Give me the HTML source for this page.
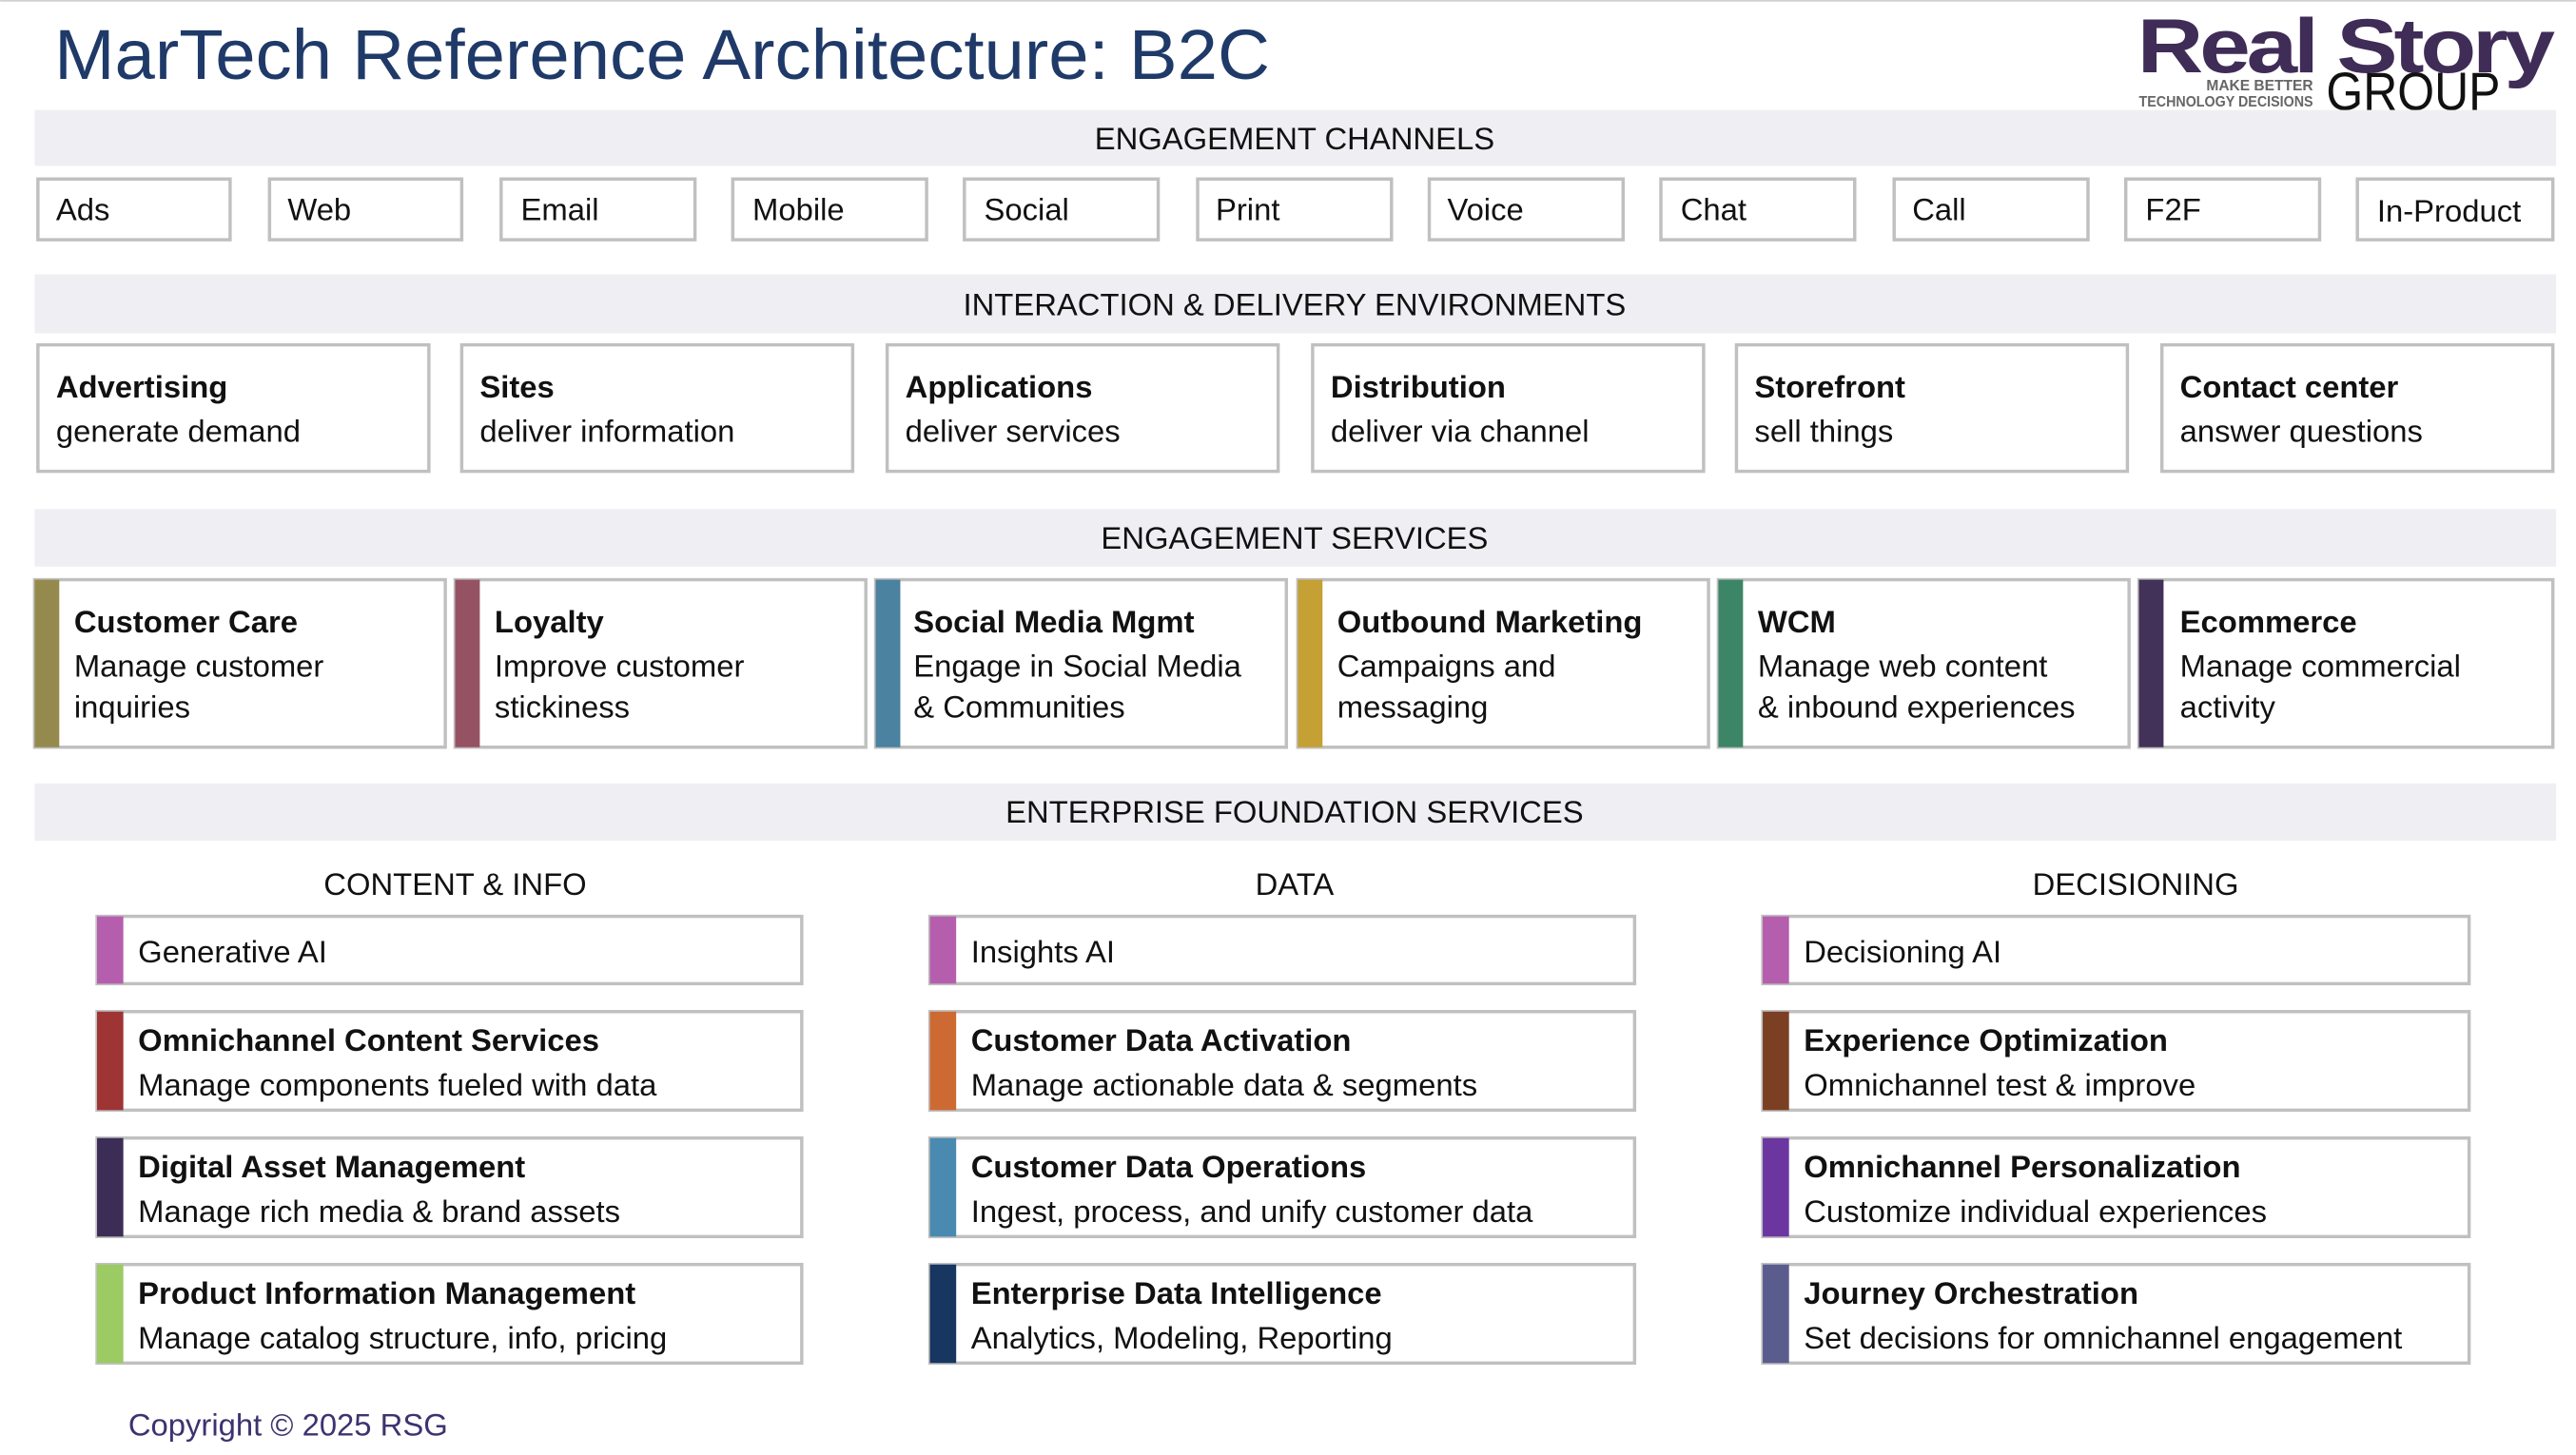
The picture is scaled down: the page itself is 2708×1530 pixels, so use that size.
<!DOCTYPE html>
<html><head><meta charset="utf-8"><style>
html,body{margin:0;padding:0;background:#fff;}
svg{display:block;}
text{font-family:"Liberation Sans",sans-serif;}
</style></head><body>
<svg width="2708" height="1530" viewBox="0 0 1568 886" xmlns="http://www.w3.org/2000/svg">
<rect width="1568" height="886" fill="#fff"/>
<rect x="0" y="0" width="1568" height="1" fill="#d0d0d0"/>
<text x="33" y="48" font-size="43" fill="#1f3a68" textLength="740" lengthAdjust="spacingAndGlyphs">MarTech Reference Architecture: B2C</text>
<!-- logo -->
<text x="1301" y="44" font-size="47" font-weight="bold" fill="#3f2c57" textLength="252" lengthAdjust="spacingAndGlyphs" letter-spacing="-2">Real Story</text>
<text x="1408" y="55" font-size="9" font-weight="bold" fill="#666" text-anchor="end">MAKE BETTER</text>
<text x="1408" y="65" font-size="9" font-weight="bold" fill="#666" text-anchor="end" textLength="106" lengthAdjust="spacingAndGlyphs">TECHNOLOGY DECISIONS</text>
<text x="1416" y="67" font-size="33" fill="#111" textLength="106" lengthAdjust="spacingAndGlyphs">GROUP</text>
<g fill="#efeff3">
<rect x="21" y="67" width="1535" height="34"/>
<rect x="21" y="167" width="1535" height="36"/>
<rect x="21" y="310" width="1535" height="35"/>
<rect x="21" y="477" width="1535" height="35"/>
</g>
<g font-size="19" fill="#111" text-anchor="middle">
<text x="788" y="91">ENGAGEMENT CHANNELS</text>
<text x="788" y="192">INTERACTION &amp; DELIVERY ENVIRONMENTS</text>
<text x="788" y="334">ENGAGEMENT SERVICES</text>
<text x="788" y="501">ENTERPRISE FOUNDATION SERVICES</text>
<text x="277" y="545">CONTENT &amp; INFO</text>
<text x="788" y="545">DATA</text>
<text x="1300" y="545">DECISIONING</text>
</g>
<!-- channels -->
<g fill="none" stroke="#c0c0c0" stroke-width="2">
<rect x="23" y="109" width="117" height="37"/><rect x="164" y="109" width="117" height="37"/>
<rect x="305" y="109" width="118" height="37"/><rect x="446" y="109" width="118" height="37"/>
<rect x="587" y="109" width="118" height="37"/><rect x="729" y="109" width="118" height="37"/>
<rect x="870" y="109" width="118" height="37"/><rect x="1011" y="109" width="118" height="37"/>
<rect x="1153" y="109" width="118" height="37"/><rect x="1294" y="109" width="118" height="37"/>
<rect x="1435" y="109" width="119" height="37"/>
</g>
<g font-size="19" fill="#111">
<text x="34" y="134">Ads</text><text x="175" y="134">Web</text><text x="317" y="134">Email</text>
<text x="458" y="134">Mobile</text><text x="599" y="134">Social</text><text x="740" y="134">Print</text>
<text x="881" y="134">Voice</text><text x="1023" y="134">Chat</text><text x="1164" y="134">Call</text>
<text x="1306" y="134">F2F</text><text x="1447" y="135">In-Product</text>
</g>
<!-- environments -->
<g fill="none" stroke="#c0c0c0" stroke-width="2">
<rect x="23" y="210" width="238" height="77"/><rect x="281" y="210" width="238" height="77"/>
<rect x="540" y="210" width="238" height="77"/><rect x="799" y="210" width="238" height="77"/>
<rect x="1057" y="210" width="238" height="77"/><rect x="1316" y="210" width="238" height="77"/>
</g>
<g font-size="19" fill="#111">
<text x="34" y="242" font-weight="bold">Advertising</text><text x="34" y="269">generate demand</text>
<text x="292" y="242" font-weight="bold">Sites</text><text x="292" y="269">deliver information</text>
<text x="551" y="242" font-weight="bold">Applications</text><text x="551" y="269">deliver services</text>
<text x="810" y="242" font-weight="bold">Distribution</text><text x="810" y="269">deliver via channel</text>
<text x="1068" y="242" font-weight="bold">Storefront</text><text x="1068" y="269">sell things</text>
<text x="1327" y="242" font-weight="bold">Contact center</text><text x="1327" y="269">answer questions</text>
</g>
<!-- services -->
<g fill="none" stroke="#c0c0c0" stroke-width="2">
<rect x="21" y="353" width="250" height="102"/><rect x="277" y="353" width="250" height="102"/>
<rect x="533" y="353" width="250" height="102"/><rect x="790" y="353" width="250" height="102"/>
<rect x="1046" y="353" width="250" height="102"/><rect x="1302" y="353" width="252" height="102"/>
</g>
<rect x="21" y="353" width="15" height="102" fill="#958a4e"/>
<rect x="277" y="353" width="15" height="102" fill="#955262"/>
<rect x="533" y="353" width="15" height="102" fill="#4a82a0"/>
<rect x="790" y="353" width="15" height="102" fill="#c4a035"/>
<rect x="1046" y="353" width="15" height="102" fill="#3c8566"/>
<rect x="1302" y="353" width="15" height="102" fill="#423158"/>
<g font-size="19" fill="#111">
<text x="45" y="385" font-weight="bold">Customer Care</text><text x="45" y="412">Manage customer</text><text x="45" y="437">inquiries</text>
<text x="301" y="385" font-weight="bold">Loyalty</text><text x="301" y="412">Improve customer</text><text x="301" y="437">stickiness</text>
<text x="556" y="385" font-weight="bold">Social Media Mgmt</text><text x="556" y="412">Engage in Social Media</text><text x="556" y="437">&amp; Communities</text>
<text x="814" y="385" font-weight="bold">Outbound Marketing</text><text x="814" y="412">Campaigns and</text><text x="814" y="437">messaging</text>
<text x="1070" y="385" font-weight="bold">WCM</text><text x="1070" y="412">Manage web content</text><text x="1070" y="437">&amp; inbound experiences</text>
<text x="1327" y="385" font-weight="bold">Ecommerce</text><text x="1327" y="412">Manage commercial</text><text x="1327" y="437">activity</text>
</g>
<!-- foundation -->
<g fill="none" stroke="#c0c0c0" stroke-width="2">
<rect x="59" y="558" width="429" height="41"/><rect x="59" y="616" width="429" height="60"/><rect x="59" y="693" width="429" height="60"/><rect x="59" y="770" width="429" height="60"/>
<rect x="566" y="558" width="429" height="41"/><rect x="566" y="616" width="429" height="60"/><rect x="566" y="693" width="429" height="60"/><rect x="566" y="770" width="429" height="60"/>
<rect x="1073" y="558" width="430" height="41"/><rect x="1073" y="616" width="430" height="60"/><rect x="1073" y="693" width="430" height="60"/><rect x="1073" y="770" width="430" height="60"/>
</g>
<rect x="59" y="558" width="16" height="41" fill="#b55ead"/>
<rect x="59" y="616" width="16" height="60" fill="#9e3434"/>
<rect x="59" y="693" width="16" height="60" fill="#3c2d57"/>
<rect x="59" y="770" width="16" height="60" fill="#9bcb62"/>
<rect x="566" y="558" width="16" height="41" fill="#b55ead"/>
<rect x="566" y="616" width="16" height="60" fill="#cd6a33"/>
<rect x="566" y="693" width="16" height="60" fill="#4a8ab0"/>
<rect x="566" y="770" width="16" height="60" fill="#173660"/>
<rect x="1073" y="558" width="16" height="41" fill="#b55ead"/>
<rect x="1073" y="616" width="16" height="60" fill="#7b4023"/>
<rect x="1073" y="693" width="16" height="60" fill="#6c36a0"/>
<rect x="1073" y="770" width="16" height="60" fill="#5b5c8e"/>
<g font-size="19" fill="#111">
<text x="84" y="586">Generative AI</text>
<text x="84" y="640" font-weight="bold">Omnichannel Content Services</text><text x="84" y="667">Manage components fueled with data</text>
<text x="84" y="717" font-weight="bold">Digital Asset Management</text><text x="84" y="744">Manage rich media &amp; brand assets</text>
<text x="84" y="794" font-weight="bold">Product Information Management</text><text x="84" y="821">Manage catalog structure, info, pricing</text>
<text x="591" y="586">Insights AI</text>
<text x="591" y="640" font-weight="bold">Customer Data Activation</text><text x="591" y="667">Manage actionable data &amp; segments</text>
<text x="591" y="717" font-weight="bold">Customer Data Operations</text><text x="591" y="744">Ingest, process, and unify customer data</text>
<text x="591" y="794" font-weight="bold">Enterprise Data Intelligence</text><text x="591" y="821">Analytics, Modeling, Reporting</text>
<text x="1098" y="586">Decisioning AI</text>
<text x="1098" y="640" font-weight="bold">Experience Optimization</text><text x="1098" y="667">Omnichannel test &amp; improve</text>
<text x="1098" y="717" font-weight="bold">Omnichannel Personalization</text><text x="1098" y="744">Customize individual experiences</text>
<text x="1098" y="794" font-weight="bold">Journey Orchestration</text><text x="1098" y="821">Set decisions for omnichannel engagement</text>
</g>
<text x="78" y="874" font-size="19" fill="#3c3370">Copyright © 2025 RSG</text>
</svg>
</body></html>
